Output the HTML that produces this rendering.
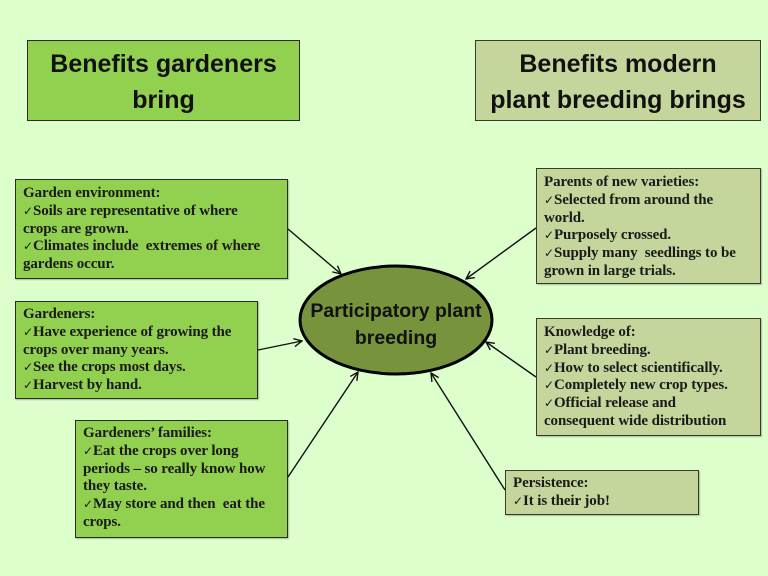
<!DOCTYPE html>
<html><head><meta charset="utf-8">
<style>
html,body{margin:0;padding:0;}
body{width:768px;height:576px;background:#dcffcc;position:relative;overflow:hidden;}
.t{position:absolute;box-sizing:border-box;border:1.5px solid #2a2a2a;font-family:"Liberation Sans",sans-serif;font-weight:bold;font-size:25px;line-height:36px;text-align:center;color:#111;padding-top:5px;}
.b{position:absolute;box-sizing:border-box;border:1.5px solid #2a2a2a;font-family:"Liberation Serif",serif;font-weight:bold;font-size:15px;line-height:17.8px;color:#1a1a1a;padding:4px 0 0 7px;white-space:nowrap;box-shadow:1px 1px 1px rgba(0,0,0,0.25);letter-spacing:-0.1px;}
.g{background:#92d050;}
.o{background:#c4d69b;border-color:#3a3a2a;}
.c{font-family:"DejaVu Sans",sans-serif;font-weight:normal;font-size:12px;}
svg{position:absolute;left:0;top:0;}
.e{position:absolute;left:299px;top:270px;width:194px;height:110px;display:flex;align-items:center;justify-content:center;font-family:"Liberation Sans",sans-serif;font-weight:bold;font-size:19.5px;line-height:27px;text-align:center;color:#111;}
</style></head><body>
<div class="t g" style="left:27px;top:40px;width:273px;height:81px;">Benefits gardeners<br>bring</div>
<div class="t o" style="left:475px;top:40px;width:286px;height:81px;">Benefits modern<br>plant breeding brings</div>

<div class="b g" style="left:15px;top:179px;width:273px;height:100px;padding-top:5px;">Garden environment:<br><span class="c">✓</span>Soils are representative of where<br>crops are grown.<br><span class="c">✓</span>Climates include&nbsp; extremes of where<br>gardens occur.</div>

<div class="b g" style="left:15px;top:301px;width:243px;height:98px;">Gardeners:<br><span class="c">✓</span>Have experience of growing the<br>crops over many years.<br><span class="c">✓</span>See the crops most days.<br><span class="c">✓</span>Harvest by hand.</div>

<div class="b g" style="left:75px;top:420px;width:213px;height:118px;">Gardeners’ families:<br><span class="c">✓</span>Eat the crops over long<br>periods – so really know how<br>they taste.<br><span class="c">✓</span>May store and then&nbsp; eat the<br>crops.</div>

<div class="b o" style="left:536px;top:168px;width:225px;height:116px;padding-top:5px;">Parents of new varieties:<br><span class="c">✓</span>Selected from around the<br>world.<br><span class="c">✓</span>Purposely crossed.<br><span class="c">✓</span>Supply many&nbsp; seedlings to be<br>grown in large trials.</div>

<div class="b o" style="left:536px;top:318px;width:225px;height:118px;padding-top:5px;">Knowledge of:<br><span class="c">✓</span>Plant breeding.<br><span class="c">✓</span>How to select scientifically.<br><span class="c">✓</span>Completely new crop types.<br><span class="c">✓</span>Official release and<br>consequent wide distribution</div>

<div class="b o" style="left:505px;top:470px;width:194px;height:45px;">Persistence:<br><span class="c">✓</span>It is their job!</div>

<svg width="768" height="576" viewBox="0 0 768 576">
<defs>
<marker id="a" markerWidth="10" markerHeight="10" refX="9" refY="5" orient="auto" markerUnits="userSpaceOnUse">
<path d="M1,1 L9,5 L1,9" fill="none" stroke="#111" stroke-width="1.4"/>
</marker>
</defs>
<ellipse cx="396" cy="320" rx="96" ry="54" fill="#77933c" stroke="#000" stroke-width="3"/>
<g stroke="#111" stroke-width="1.4" fill="none" marker-end="url(#a)">
<line x1="288" y1="229" x2="341" y2="274"/>
<line x1="258" y1="350" x2="302" y2="341"/>
<line x1="288" y1="477" x2="358" y2="372"/>
<line x1="536" y1="228" x2="466" y2="279"/>
<line x1="536" y1="377" x2="486" y2="342"/>
<line x1="505" y1="490" x2="431" y2="373"/>
</g>
</svg>
<div class="e">Participatory plant<br>breeding</div>
</body></html>
